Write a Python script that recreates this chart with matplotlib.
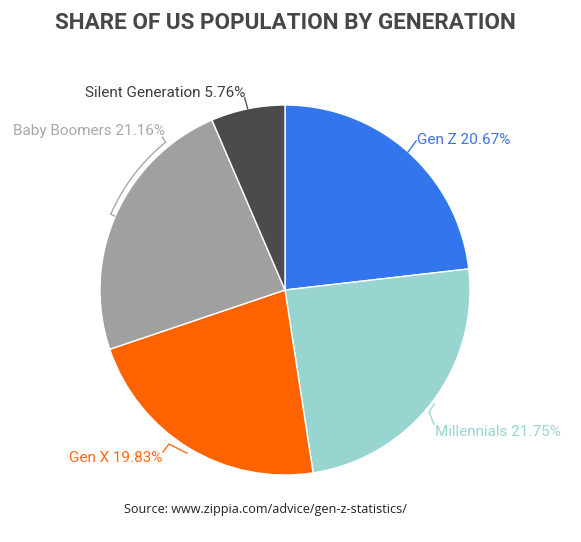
import numpy as np
import matplotlib
matplotlib.use("Agg")
import matplotlib.pyplot as plt
from matplotlib.patches import Arc

# data
generations = ["Gen Z", "Millennials", "Gen X", "Baby Boomers", "Silent Generation"]
shares = [20.67, 21.75, 19.83, 21.16, 5.76]
colors = ["#3275EC", "#98D5D1", "#FF6200", "#A0A0A0", "#4B4B4B"]
label_colors = ["#3A73E3", "#98D5D1", "#FF6A14", "#A8A8A8", "#3C3C3C"]

W, H = 581, 542
CX, CY, R = 285, H - 290, 185

fig = plt.figure(figsize=(W / 100, H / 100), dpi=100)
ax = fig.add_axes([0, 0, 1, 1])

ax.pie(shares, colors=colors, startangle=90, counterclock=False,
       center=(CX, CY), radius=R, frame=True,
       wedgeprops={"edgecolor": "white", "linewidth": 1.0})
ax.set_xlim(0, W)
ax.set_ylim(0, H)
ax.set_aspect("equal")
ax.axis("off")

# middle angle of each slice (degrees, counter-clockwise from +x)
frac = np.array(shares) / sum(shares)
start = np.concatenate([[0], np.cumsum(frac)[:-1]])
mid = 90 - 360 * (start + frac / 2)


def edge(ang, r=R):
    a = np.deg2rad(ang)
    return CX + r * np.cos(a), CY + r * np.sin(a)


lab_font = dict(family="Roboto", fontsize=11)

# Gen Z
x0, y0 = edge(mid[0])
ax.plot([x0, x0 + 8], [y0, y0 + 11], color=label_colors[0], lw=1)
ax.text(x0 + 9, y0 + 12, f"{generations[0]} {shares[0]:.2f}%", color=label_colors[0],
        ha="left", va="center", **lab_font)

# Millennials
x0, y0 = edge(mid[1])
ax.plot([x0 + 2, x0 - 3, x0 + 2], [y0 - 2, y0 - 10, y0 - 22], color=label_colors[1], lw=1)
ax.text(x0 + 3, y0 - 30, f"{generations[1]} {shares[1]:.2f}%", color=label_colors[1],
        ha="left", va="center", **lab_font)

# Gen X
x0, y0 = edge(mid[2])
ax.plot([x0 - 2, x0 - 20, x0 - 26], [y0 - 5, y0 + 4, y0 - 4], color=label_colors[2], lw=1)
ax.text(x0 - 27, y0 - 10, f"{generations[2]} {shares[2]:.2f}%", color=label_colors[2],
        ha="right", va="center", **lab_font)

# Baby Boomers: bracket arc outside the slice
ax.add_patch(Arc((CX, CY), 2 * (R + 5), 2 * (R + 5), theta1=mid[3] - 27, theta2=mid[3] + 0.5,
                 color=label_colors[3], lw=1))
bx, by = edge(mid[3] - 27, R + 5)
ax.plot([bx, bx - 3], [by, by + 5], color=label_colors[3], lw=1)
ex, ey = edge(mid[3] + 0.5, R + 5)
ax.plot([ex, ex + 4], [ey, ey - 2], color=label_colors[3], lw=1)
ax.text(bx - 1, by + 11, f"{generations[3]} {shares[3]:.2f}%", color=label_colors[3],
        ha="right", va="center", **lab_font)

# Silent Generation
x0, y0 = edge(mid[4])
ax.plot([x0, x0 - 3], [y0, y0 + 11], color="#555555", lw=1)
ax.text(x0 - 2, y0 + 16, f"{generations[4]} {shares[4]:.2f}%", color=label_colors[4],
        ha="right", va="center", **lab_font)

ax.text(285, H - 23, "SHARE OF US POPULATION BY GENERATION", ha="center", va="center",
        family="Roboto", fontweight="bold", fontsize=16.2, color="#474747")
ax.text(265, H - 510, "Source: www.zippia.com/advice/gen-z-statistics/", ha="center",
        va="center", family="Open Sans", fontsize=9.1, color="#222222")

fig.savefig("out.png", dpi=100, facecolor="white")
